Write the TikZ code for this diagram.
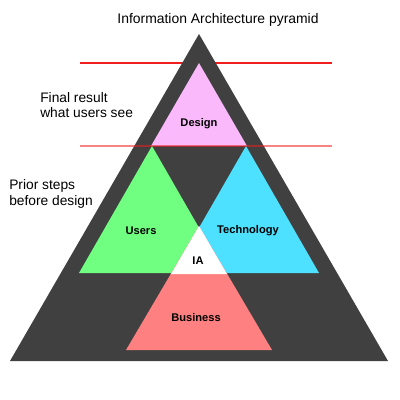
\documentclass[tikz,border=0pt]{standalone}
\usepackage{fontspec}
\setmainfont{Liberation Sans}
\definecolor{mydark}{RGB}{64,64,64}
\definecolor{mypink}{RGB}{250,185,250}
\definecolor{mygreen}{RGB}{112,255,128}
\definecolor{mycyan}{RGB}{77,225,255}
\definecolor{mysalmon}{RGB}{255,128,128}
\definecolor{myred}{RGB}{240,30,30}

\begin{document}
\begin{tikzpicture}[x=0.025cm, y=-0.025cm,
    note/.style={anchor=base west, inner sep=0pt, align=left, font=\fontsize{9.8}{11}\selectfont},
    area/.style={anchor=base, inner sep=0pt, font=\fontsize{7.9}{9}\selectfont\bfseries}]
    \useasboundingbox (0,0) rectangle (400,400);
    % Title
    \node[anchor=base, inner sep=0pt, font=\fontsize{9.9}{11}\selectfont] (title) at (218,24) {Information Architecture pyramid};
    % Upper limit line, behind the pyramid
    \coordinate (topL) at (80,63);
    \coordinate (topR) at (332,63);
    \draw[myred, line width=0.75pt] (topL) -- (topR);
    % Outer pyramid
    \coordinate (P) at (199,34);
    \fill[mydark] (P) -- (10,361) -- (388,361) -- cycle;
    % Design triangle
    \coordinate (D) at (199,63);
    \fill[mypink] (D) -- (151,146) -- (247,146) -- cycle;
    % Users, Technology and Business triangles
    \coordinate (U) at (152,146);
    \coordinate (T) at (246,146);
    \coordinate (B) at (199,226);
    \fill[mygreen] (U) -- ++(-73,127) -- ++(146,0) -- cycle;
    \fill[mycyan] (T) -- ++(-73,127) -- ++(146,0) -- cycle;
    \fill[mysalmon] (B) -- ++(-73,124) -- ++(146,0) -- cycle;
    % Overlap of all three
    \fill[white] (B) -- (171,274) -- (227,274) -- cycle;
    % Lower limit line, on top
    \coordinate (botL) at (80,146);
    \coordinate (botR) at (332,146);
    \draw[myred, line width=0.75pt, opacity=0.55] (botL) -- (botR);
    % Side notes (base is the last line)
    \node[note] (final) at (40,117.5) {Final result\\what users see};
    \node[note] (prior) at (9,205) {Prior steps\\before design};
    % Area labels
    \node[area] (design) at (199,127) {Design};
    \node[area] (users) at (141,234) {Users};
    \node[area] (tech) at (248,233) {Technology};
    \node[area] (ia) at (198,264) {IA};
    \node[area] (business) at (196,321.5) {Business};
\end{tikzpicture}
\end{document}
